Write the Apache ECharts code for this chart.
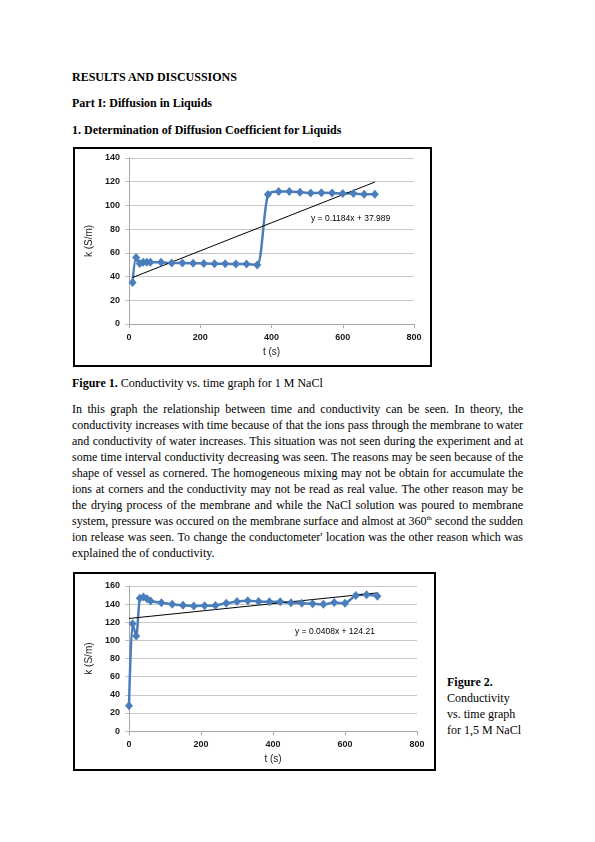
<!DOCTYPE html>
<html>
<head>
<meta charset="utf-8">
<script src="https://cdn.jsdelivr.net/npm/echarts@6/dist/echarts.min.js"></script>
<style>
  body { margin: 0; background: #fff; }
  #page { position: relative; width: 595px; height: 842px; font-family: "Liberation Serif", "DejaVu Serif", serif; font-size: 12px; color: #000; }
  .t { position: absolute; left: 72px; white-space: nowrap; line-height: 14px; }
  .b { font-weight: bold; }
  .j { position: absolute; left: 72px; width: 451px; line-height: 14px; text-align: justify; text-align-last: justify; white-space: nowrap; }
  .box { position: absolute; border: 2px solid #000; box-sizing: border-box; background: #fff; }
  sup { font-size: 7px; line-height: 0; }
</style>
</head>
<body>
<div id="page">
  <div class="t b" style="top:70px">RESULTS AND DISCUSSIONS</div>
  <div class="t b" style="top:96px">Part I: Diffusion in Liquids</div>
  <div class="t b" style="top:123px">1. Determination of Diffusion Coefficient for Liquids</div>

  <div class="box" id="main" style="left:73px; top:147px; width:359px; height:220px"></div>

  <div class="t" style="top:376px"><b>Figure 1.</b> Conductivity vs. time graph for 1 M NaCl</div>

  <div class="j" style="top:402px">In this graph the relationship between time and conductivity can be seen. In theory, the</div>
  <div class="j" style="top:418px">conductivity increases with time because of that the ions pass through the membrane to water</div>
  <div class="j" style="top:434px">and conductivity of water increases. This situation was not seen during the experiment and at</div>
  <div class="j" style="top:450px">some time interval conductivity decreasing was seen. The reasons may be seen because of the</div>
  <div class="j" style="top:466px">shape of vessel as cornered. The homogeneous mixing may not be obtain for accumulate the</div>
  <div class="j" style="top:482px">ions at corners and the conductivity may not be read as real value. The other reason may be</div>
  <div class="j" style="top:498px">the drying process of the membrane and while the NaCl solution was poured to membrane</div>
  <div class="j" style="top:514px">system, pressure was occured on the membrane surface and almost at 360<sup>th</sup> second the sudden</div>
  <div class="j" style="top:530px">ion release was seen. To change the conductometer' location was the other reason which was</div>
  <div class="t" style="top:546px">explained the of conductivity.</div>

  <div class="box" id="bar" style="left:73px; top:572px; width:363px; height:199px"></div>

  <div class="t b" style="left:447px; top:675px">Figure 2.</div>
  <div class="t" style="left:447px; top:691px">Conductivity</div>
  <div class="t" style="left:447px; top:707px">vs. time graph</div>
  <div class="t" style="left:447px; top:723px">for 1,5 M NaCl</div>
</div>
<script>
// values
var time1 = [10, 20, 30, 40, 50, 60, 90, 120, 150, 180, 210, 240, 270, 300, 330, 360, 390, 420, 450, 480, 510, 540, 570, 600, 630, 660, 690];
var cond1 = [35, 56, 51, 52, 52, 52, 52, 51.5, 51.5, 51.3, 51, 50.8, 50.8, 50.5, 50.5, 49.7, 109.2, 111.8, 111.8, 111.2, 110.4, 110.6, 110.4, 110, 110, 109.4, 109.5];
var trend1 = [[10, 39.2], [690, 119.7]];
var eq1 = 'y = 0.1184x + 37.989';

var time2 = [0, 10, 20, 30, 40, 50, 60, 90, 120, 150, 180, 210, 240, 270, 300, 330, 360, 390, 420, 450, 480, 510, 540, 570, 600, 630, 660, 690];
var cond2 = [28, 118.5, 105, 146.5, 147.8, 146, 143.5, 141.5, 140, 138.7, 138, 138.3, 138.5, 141, 143, 143.8, 143, 142.5, 142.5, 141.5, 141, 140.5, 139.8, 141.8, 141, 149.5, 150.3, 148.8];
var trend2 = [[0, 124.2], [690, 152.4]];
var eq2 = 'y = 0.0408x + 124.21';

var xTicks = [0, 200, 400, 600, 800];

function pairs(xs, ys) {
    var out = [];
    for (var i = 0; i < xs.length; i++) {
        out.push([xs[i], ys[i]]);
    }
    return out;
}

function getOption(data, trend, eq, yMax, yStep, grid, xGap, eqPos) {
    var tickFont = { fontFamily: 'Liberation Sans', fontSize: 9, fontWeight: 'bold', color: '#1a1a1a' };
    var nameFont = { fontFamily: 'Liberation Sans', fontSize: 10, color: '#1a1a1a' };
    return {
        animation: false,
        grid: grid,
        xAxis: {
            type: 'value',
            min: xTicks[0],
            max: xTicks[xTicks.length - 1],
            interval: 200,
            name: 't (s)',
            nameLocation: 'middle',
            nameGap: xGap,
            nameTextStyle: nameFont,
            axisLine: { lineStyle: { color: '#a6a6a6', width: 1 } },
            axisTick: { show: true, length: 4, lineStyle: { color: '#a6a6a6' } },
            axisLabel: Object.assign({ margin: 9 }, tickFont),
            splitLine: { show: false }
        },
        yAxis: {
            type: 'value',
            min: 0,
            max: yMax,
            interval: yStep,
            name: 'k (S/m)',
            nameLocation: 'middle',
            nameGap: 28,
            nameTextStyle: nameFont,
            axisLine: { show: true, lineStyle: { color: '#a6a6a6', width: 1 } },
            axisTick: { show: true, length: 4, lineStyle: { color: '#bfbfbf' } },
            axisLabel: Object.assign({ margin: 9 }, tickFont),
            splitLine: { lineStyle: { color: '#c8c8c8', width: 1 } }
        },
        graphic: [{
            type: 'text',
            left: eqPos[0],
            top: eqPos[1],
            style: { text: eq, font: '8.5px "Liberation Sans"', fill: '#000' }
        }],
        series: [
            {
                type: 'line',
                data: data,
                smooth: 0.25,
                symbol: 'diamond',
                symbolSize: [8, 9],
                itemStyle: { color: '#4a7ebb' },
                lineStyle: { color: '#4a7ebb', width: 2.5 }
            },
            {
                type: 'line',
                data: trend,
                symbol: 'none',
                lineStyle: { color: '#000', width: 1 },
                z: 3
            }
        ]
    };
}

var myChart = echarts.init(document.getElementById('main'));
myChart.setOption(getOption(pairs(time1, cond1), trend1, eq1, 140, 20,
    { left: 54, top: 9, right: 16, bottom: 41 }, 22, [236, 65]));

var barChart = echarts.init(document.getElementById('bar'));
barChart.setOption(getOption(pairs(time2, cond2), trend2, eq2, 160, 20,
    { left: 54, top: 12, right: 17, bottom: 32 }, 19, [220, 53]));
</script>
</body>
</html>
